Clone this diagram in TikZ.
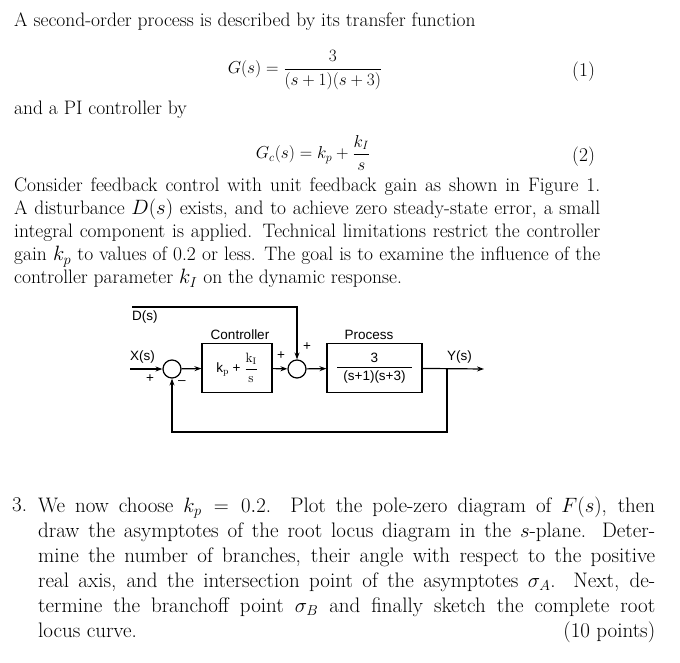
\documentclass[tikz,border=0pt]{standalone}
\usepackage{amsmath}
\usepackage{fontspec}
\newfontfamily\hv{Liberation Sans}
\usetikzlibrary{arrows.meta}
\begin{document}
\begin{tikzpicture}[x=1pt,y=-1pt,
  txt/.style={anchor=west,inner sep=0pt,font=\fontsize{19.5}{23}\selectfont},
  blk/.style={draw,line width=1.2pt},
  sm/.style={font=\hv\fontsize{13.5}{15}\selectfont,inner sep=1pt},
  sum/.style={draw,circle,minimum size=18pt,inner sep=0pt,line width=1.2pt},
  arr/.style={-{Stealth[length=7pt,width=5pt]},line width=1.2pt}]
\useasboundingbox (0,0) rectangle (680,663);
\node[txt] (l1) at (14,22) {A second-order process is described by its transfer function};
\node[font=\fontsize{18}{23}\selectfont] (e1) at (305,70) {$G(s)=\dfrac{3}{(s+1)(s+3)}$};
\node[txt] (n1) at (572,72) {(1)};
\node[txt] (l2) at (14,110) {and a PI controller by};
\node[font=\fontsize{18}{23}\selectfont] (e2) at (313,153) {$G_c(s)=k_p+\dfrac{k_I}{s}$};
\node[txt] (n2) at (572,157) {(2)};
\node[anchor=north west,inner sep=0pt,text width=586pt,align=justify,font=\fontsize{19.5}{23}\selectfont] (p1) at (14,178)
{Consider feedback control with unit feedback gain as shown in Figure 1.\linebreak
A disturbance $D(s)$ exists, and to achieve zero steady-state error, a small\linebreak
integral component is applied. Technical limitations restrict the controller\linebreak
gain $k_p$ to values of 0.2 or less. The goal is to examine the influence of the\linebreak
controller parameter $k_I$ on the dynamic response.};
% diagram
\node[sum] (s1) at (172,369) {};
\node[sum] (s2) at (297,369) {};
\node[blk,minimum width=70pt,minimum height=49pt,sm] (c) at (237,368) {k$_\mathrm{p}$ + $\dfrac{\mathrm{k_I}}{\mathrm{s}}$};
\node[blk,minimum width=95pt,minimum height=49pt,sm,align=center] (p) at (374.5,368) {3\\[-10pt]\rule{75pt}{0.7pt}\\[-2pt](s+1)(s+3)};
\node[sm,anchor=south] (ct) at (240,341) {Controller};
\node[sm,anchor=south] (pt) at (369,341) {Process};
\node[sm,anchor=west] (dl) at (131,317) {D(s)};
\node[sm,anchor=south west] (xl) at (129,364) {X(s)};
\node[sm,anchor=south west] (yl) at (446,364) {Y(s)};
\coordinate (xin) at (130,369);
\coordinate (dst) at (132,307);
\coordinate (dc) at (297,307);
\coordinate (br) at (447,369);
\coordinate (yo) at (484,369);
\coordinate (fb) at (447,432);
\coordinate (fb2) at (172,432);
\draw[arr] (xin) -- (s1);
\draw[arr] (s1) -- (c);
\draw[arr] (c) -- (s2);
\draw[arr] (s2) -- (p);
\draw[arr] (p) -- (yo);
\draw[arr] (dst) -- (dc) -- (s2);
\draw[arr] (br) -- (fb) -- (fb2) -- (s1);
\node[sm] (pa) at (150,379) {+};
\node[sm] (pb) at (182,383) {\textendash};
\node[sm] (pc) at (281,356) {+};
\node[sm] (pd) at (307,347) {+};
% item 3
\node[anchor=north west,inner sep=0pt,font=\fontsize{21}{25}\selectfont] (i3) at (12,497) {3.};
\node[anchor=north west,inner sep=0pt,text width=617pt,align=justify,font=\fontsize{21}{25}\selectfont] (p2) at (38,497)
{We now choose $k_p=0.2$. Plot the pole-zero diagram of $F(s)$, then\linebreak
draw the asymptotes of the root locus diagram in the $s$-plane. Deter-\linebreak
mine the number of branches, their angle with respect to the positive\linebreak
real axis, and the intersection point of the asymptotes $\sigma_A$. Next, de-\linebreak
termine the branchoff point $\sigma_B$ and finally sketch the complete root\linebreak
locus curve.\hfill(10 points)};
\end{tikzpicture}
\end{document}
